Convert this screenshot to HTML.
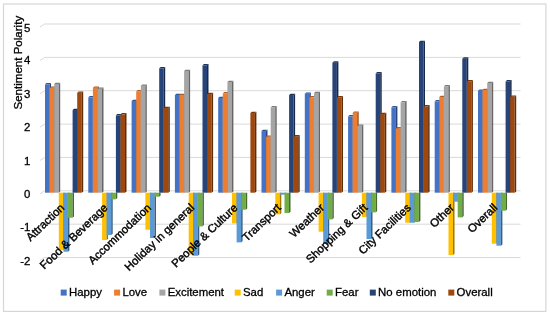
<!DOCTYPE html>
<html><head><meta charset="utf-8"><title>Sentiment Polarity</title>
<style>
html,body{margin:0;padding:0;background:#fff;}
body{width:550px;height:315px;overflow:hidden;position:relative;}
.t{font-family:"Liberation Sans",Arial,sans-serif;font-size:11.4px;fill:#000;stroke:#000;stroke-width:0.3px;}
.r{stroke-width:0.4px;}
</style></head><body>
<svg width="550" height="315" viewBox="0 0 550 315" style="position:absolute;left:0;top:0">
<rect x="3.5" y="4" width="542.4" height="307.4" fill="#fff" stroke="#D6D6D6" stroke-width="1.2"/>
<path d="M40 260.6 L44.6 257.5 H520.5" fill="none" stroke="#D9D9D9" stroke-width="1"/>
<path d="M40 227.3 L44.6 224.2 H520.5" fill="none" stroke="#D9D9D9" stroke-width="1"/>
<path d="M40 193.9 L44.6 190.8 H520.5" fill="none" stroke="#D9D9D9" stroke-width="1"/>
<path d="M40 160.5 L44.6 157.4 H520.5" fill="none" stroke="#D9D9D9" stroke-width="1"/>
<path d="M40 127.2 L44.6 124.1 H520.5" fill="none" stroke="#D9D9D9" stroke-width="1"/>
<path d="M40 93.8 L44.6 90.7 H520.5" fill="none" stroke="#D9D9D9" stroke-width="1"/>
<path d="M40 60.5 L44.6 57.4 H520.5" fill="none" stroke="#D9D9D9" stroke-width="1"/>
<path d="M40 27.1 L44.6 24.0 H520.5" fill="none" stroke="#D9D9D9" stroke-width="1"/>
<rect x="45.00" y="84.35" width="4.5" height="108.35" fill="#4472C4"/>
<path d="M49.50 84.35 l1.5 -1.3 V191.40 l-1.5 1.3 Z" fill="#2A4679"/>
<path d="M45.00 84.35 l1.5 -1.3 h4.5 l-1.5 1.3 Z" fill="#325491"/>
<rect x="49.60" y="87.68" width="4.5" height="105.02" fill="#ED7D31"/>
<path d="M54.10 87.68 l1.5 -1.3 V191.40 l-1.5 1.3 Z" fill="#924D1E"/>
<path d="M49.60 87.68 l1.5 -1.3 h4.5 l-1.5 1.3 Z" fill="#AF5C24"/>
<rect x="54.20" y="84.01" width="4.5" height="108.69" fill="#A5A5A5"/>
<path d="M58.70 84.01 l1.5 -1.3 V191.40 l-1.5 1.3 Z" fill="#666666"/>
<path d="M54.20 84.01 l1.5 -1.3 h4.5 l-1.5 1.3 Z" fill="#7A7A7A"/>
<rect x="58.80" y="192.70" width="4.5" height="57.38" fill="#FFC000"/>
<path d="M63.30 192.70 h1.5 V248.78 l-1.5 1.3 Z" fill="#9E7700"/>
<rect x="63.40" y="192.70" width="4.5" height="59.05" fill="#5B9BD5"/>
<path d="M67.90 192.70 h1.5 V250.45 l-1.5 1.3 Z" fill="#386084"/>
<rect x="68.00" y="192.70" width="4.5" height="25.02" fill="#70AD47"/>
<path d="M72.50 192.70 h1.5 V216.42 l-1.5 1.3 Z" fill="#456B2C"/>
<rect x="72.60" y="110.03" width="4.5" height="82.67" fill="#264478"/>
<path d="M77.10 110.03 l1.5 -1.3 V191.40 l-1.5 1.3 Z" fill="#172A4A"/>
<path d="M72.60 110.03 l1.5 -1.3 h4.5 l-1.5 1.3 Z" fill="#1C3258"/>
<rect x="77.20" y="92.69" width="4.5" height="100.01" fill="#9E480E"/>
<path d="M81.70 92.69 l1.5 -1.3 V191.40 l-1.5 1.3 Z" fill="#612C08"/>
<path d="M77.20 92.69 l1.5 -1.3 h4.5 l-1.5 1.3 Z" fill="#74350A"/>
<rect x="88.30" y="97.36" width="4.5" height="95.34" fill="#4472C4"/>
<path d="M92.80 97.36 l1.5 -1.3 V191.40 l-1.5 1.3 Z" fill="#2A4679"/>
<path d="M88.30 97.36 l1.5 -1.3 h4.5 l-1.5 1.3 Z" fill="#325491"/>
<rect x="92.90" y="87.68" width="4.5" height="105.02" fill="#ED7D31"/>
<path d="M97.40 87.68 l1.5 -1.3 V191.40 l-1.5 1.3 Z" fill="#924D1E"/>
<path d="M92.90 87.68 l1.5 -1.3 h4.5 l-1.5 1.3 Z" fill="#AF5C24"/>
<rect x="97.50" y="88.68" width="4.5" height="104.02" fill="#A5A5A5"/>
<path d="M102.00 88.68 l1.5 -1.3 V191.40 l-1.5 1.3 Z" fill="#666666"/>
<path d="M97.50 88.68 l1.5 -1.3 h4.5 l-1.5 1.3 Z" fill="#7A7A7A"/>
<rect x="102.10" y="192.70" width="4.5" height="47.37" fill="#FFC000"/>
<path d="M106.60 192.70 h1.5 V238.77 l-1.5 1.3 Z" fill="#9E7700"/>
<rect x="106.70" y="192.70" width="4.5" height="42.37" fill="#5B9BD5"/>
<path d="M111.20 192.70 h1.5 V233.77 l-1.5 1.3 Z" fill="#386084"/>
<rect x="111.30" y="192.70" width="4.5" height="6.67" fill="#70AD47"/>
<path d="M115.80 192.70 h1.5 V198.07 l-1.5 1.3 Z" fill="#456B2C"/>
<rect x="115.90" y="115.37" width="4.5" height="77.33" fill="#264478"/>
<path d="M120.40 115.37 l1.5 -1.3 V191.40 l-1.5 1.3 Z" fill="#172A4A"/>
<path d="M115.90 115.37 l1.5 -1.3 h4.5 l-1.5 1.3 Z" fill="#1C3258"/>
<rect x="120.50" y="114.37" width="4.5" height="78.33" fill="#9E480E"/>
<path d="M125.00 114.37 l1.5 -1.3 V191.40 l-1.5 1.3 Z" fill="#612C08"/>
<path d="M120.50 114.37 l1.5 -1.3 h4.5 l-1.5 1.3 Z" fill="#74350A"/>
<rect x="131.60" y="101.03" width="4.5" height="91.67" fill="#4472C4"/>
<path d="M136.10 101.03 l1.5 -1.3 V191.40 l-1.5 1.3 Z" fill="#2A4679"/>
<path d="M131.60 101.03 l1.5 -1.3 h4.5 l-1.5 1.3 Z" fill="#325491"/>
<rect x="136.20" y="91.35" width="4.5" height="101.35" fill="#ED7D31"/>
<path d="M140.70 91.35 l1.5 -1.3 V191.40 l-1.5 1.3 Z" fill="#924D1E"/>
<path d="M136.20 91.35 l1.5 -1.3 h4.5 l-1.5 1.3 Z" fill="#AF5C24"/>
<rect x="140.80" y="85.68" width="4.5" height="107.02" fill="#A5A5A5"/>
<path d="M145.30 85.68 l1.5 -1.3 V191.40 l-1.5 1.3 Z" fill="#666666"/>
<path d="M140.80 85.68 l1.5 -1.3 h4.5 l-1.5 1.3 Z" fill="#7A7A7A"/>
<rect x="145.40" y="192.70" width="4.5" height="37.03" fill="#FFC000"/>
<path d="M149.90 192.70 h1.5 V228.43 l-1.5 1.3 Z" fill="#9E7700"/>
<rect x="150.00" y="192.70" width="4.5" height="45.37" fill="#5B9BD5"/>
<path d="M154.50 192.70 h1.5 V236.77 l-1.5 1.3 Z" fill="#386084"/>
<rect x="154.60" y="192.70" width="4.5" height="4.00" fill="#70AD47"/>
<path d="M159.10 192.70 h1.5 V195.40 l-1.5 1.3 Z" fill="#456B2C"/>
<rect x="159.20" y="68.33" width="4.5" height="124.37" fill="#264478"/>
<path d="M163.70 68.33 l1.5 -1.3 V191.40 l-1.5 1.3 Z" fill="#172A4A"/>
<path d="M159.20 68.33 l1.5 -1.3 h4.5 l-1.5 1.3 Z" fill="#1C3258"/>
<rect x="163.80" y="108.03" width="4.5" height="84.67" fill="#9E480E"/>
<path d="M168.30 108.03 l1.5 -1.3 V191.40 l-1.5 1.3 Z" fill="#612C08"/>
<path d="M163.80 108.03 l1.5 -1.3 h4.5 l-1.5 1.3 Z" fill="#74350A"/>
<rect x="174.90" y="95.02" width="4.5" height="97.68" fill="#4472C4"/>
<path d="M179.40 95.02 l1.5 -1.3 V191.40 l-1.5 1.3 Z" fill="#2A4679"/>
<path d="M174.90 95.02 l1.5 -1.3 h4.5 l-1.5 1.3 Z" fill="#325491"/>
<rect x="179.50" y="95.02" width="4.5" height="97.68" fill="#ED7D31"/>
<path d="M184.00 95.02 l1.5 -1.3 V191.40 l-1.5 1.3 Z" fill="#924D1E"/>
<path d="M179.50 95.02 l1.5 -1.3 h4.5 l-1.5 1.3 Z" fill="#AF5C24"/>
<rect x="184.10" y="71.00" width="4.5" height="121.70" fill="#A5A5A5"/>
<path d="M188.60 71.00 l1.5 -1.3 V191.40 l-1.5 1.3 Z" fill="#666666"/>
<path d="M184.10 71.00 l1.5 -1.3 h4.5 l-1.5 1.3 Z" fill="#7A7A7A"/>
<rect x="188.70" y="192.70" width="4.5" height="61.72" fill="#FFC000"/>
<path d="M193.20 192.70 h1.5 V253.12 l-1.5 1.3 Z" fill="#9E7700"/>
<rect x="193.30" y="192.70" width="4.5" height="63.05" fill="#5B9BD5"/>
<path d="M197.80 192.70 h1.5 V254.45 l-1.5 1.3 Z" fill="#386084"/>
<rect x="197.90" y="192.70" width="4.5" height="33.69" fill="#70AD47"/>
<path d="M202.40 192.70 h1.5 V225.09 l-1.5 1.3 Z" fill="#456B2C"/>
<rect x="202.50" y="65.33" width="4.5" height="127.37" fill="#264478"/>
<path d="M207.00 65.33 l1.5 -1.3 V191.40 l-1.5 1.3 Z" fill="#172A4A"/>
<path d="M202.50 65.33 l1.5 -1.3 h4.5 l-1.5 1.3 Z" fill="#1C3258"/>
<rect x="207.10" y="94.02" width="4.5" height="98.68" fill="#9E480E"/>
<path d="M211.60 94.02 l1.5 -1.3 V191.40 l-1.5 1.3 Z" fill="#612C08"/>
<path d="M207.10 94.02 l1.5 -1.3 h4.5 l-1.5 1.3 Z" fill="#74350A"/>
<rect x="218.20" y="98.02" width="4.5" height="94.68" fill="#4472C4"/>
<path d="M222.70 98.02 l1.5 -1.3 V191.40 l-1.5 1.3 Z" fill="#2A4679"/>
<path d="M218.20 98.02 l1.5 -1.3 h4.5 l-1.5 1.3 Z" fill="#325491"/>
<rect x="222.80" y="93.35" width="4.5" height="99.35" fill="#ED7D31"/>
<path d="M227.30 93.35 l1.5 -1.3 V191.40 l-1.5 1.3 Z" fill="#924D1E"/>
<path d="M222.80 93.35 l1.5 -1.3 h4.5 l-1.5 1.3 Z" fill="#AF5C24"/>
<rect x="227.40" y="82.01" width="4.5" height="110.69" fill="#A5A5A5"/>
<path d="M231.90 82.01 l1.5 -1.3 V191.40 l-1.5 1.3 Z" fill="#666666"/>
<path d="M227.40 82.01 l1.5 -1.3 h4.5 l-1.5 1.3 Z" fill="#7A7A7A"/>
<rect x="232.00" y="192.70" width="4.5" height="30.69" fill="#FFC000"/>
<path d="M236.50 192.70 h1.5 V222.09 l-1.5 1.3 Z" fill="#9E7700"/>
<rect x="236.60" y="192.70" width="4.5" height="49.71" fill="#5B9BD5"/>
<path d="M241.10 192.70 h1.5 V241.11 l-1.5 1.3 Z" fill="#386084"/>
<rect x="241.20" y="192.70" width="4.5" height="17.01" fill="#70AD47"/>
<path d="M245.70 192.70 h1.5 V208.41 l-1.5 1.3 Z" fill="#456B2C"/>
<rect x="250.40" y="113.04" width="4.5" height="79.66" fill="#9E480E"/>
<path d="M254.90 113.04 l1.5 -1.3 V191.40 l-1.5 1.3 Z" fill="#612C08"/>
<path d="M250.40 113.04 l1.5 -1.3 h4.5 l-1.5 1.3 Z" fill="#74350A"/>
<rect x="261.50" y="131.05" width="4.5" height="61.65" fill="#4472C4"/>
<path d="M266.00 131.05 l1.5 -1.3 V191.40 l-1.5 1.3 Z" fill="#2A4679"/>
<path d="M261.50 131.05 l1.5 -1.3 h4.5 l-1.5 1.3 Z" fill="#325491"/>
<rect x="266.10" y="136.72" width="4.5" height="55.98" fill="#ED7D31"/>
<path d="M270.60 136.72 l1.5 -1.3 V191.40 l-1.5 1.3 Z" fill="#924D1E"/>
<path d="M266.10 136.72 l1.5 -1.3 h4.5 l-1.5 1.3 Z" fill="#AF5C24"/>
<rect x="270.70" y="107.36" width="4.5" height="85.34" fill="#A5A5A5"/>
<path d="M275.20 107.36 l1.5 -1.3 V191.40 l-1.5 1.3 Z" fill="#666666"/>
<path d="M270.70 107.36 l1.5 -1.3 h4.5 l-1.5 1.3 Z" fill="#7A7A7A"/>
<rect x="275.30" y="192.70" width="4.5" height="21.68" fill="#FFC000"/>
<path d="M279.80 192.70 h1.5 V213.08 l-1.5 1.3 Z" fill="#9E7700"/>
<rect x="279.90" y="192.70" width="4.5" height="2.00" fill="#5B9BD5"/>
<path d="M284.40 192.70 h1.5 V193.40 l-1.5 1.3 Z" fill="#386084"/>
<rect x="284.50" y="192.70" width="4.5" height="20.35" fill="#70AD47"/>
<path d="M289.00 192.70 h1.5 V211.75 l-1.5 1.3 Z" fill="#456B2C"/>
<rect x="289.10" y="95.02" width="4.5" height="97.68" fill="#264478"/>
<path d="M293.60 95.02 l1.5 -1.3 V191.40 l-1.5 1.3 Z" fill="#172A4A"/>
<path d="M289.10 95.02 l1.5 -1.3 h4.5 l-1.5 1.3 Z" fill="#1C3258"/>
<rect x="293.70" y="136.39" width="4.5" height="56.31" fill="#9E480E"/>
<path d="M298.20 136.39 l1.5 -1.3 V191.40 l-1.5 1.3 Z" fill="#612C08"/>
<path d="M293.70 136.39 l1.5 -1.3 h4.5 l-1.5 1.3 Z" fill="#74350A"/>
<rect x="304.80" y="93.69" width="4.5" height="99.01" fill="#4472C4"/>
<path d="M309.30 93.69 l1.5 -1.3 V191.40 l-1.5 1.3 Z" fill="#2A4679"/>
<path d="M304.80 93.69 l1.5 -1.3 h4.5 l-1.5 1.3 Z" fill="#325491"/>
<rect x="309.40" y="97.36" width="4.5" height="95.34" fill="#ED7D31"/>
<path d="M313.90 97.36 l1.5 -1.3 V191.40 l-1.5 1.3 Z" fill="#924D1E"/>
<path d="M309.40 97.36 l1.5 -1.3 h4.5 l-1.5 1.3 Z" fill="#AF5C24"/>
<rect x="314.00" y="93.02" width="4.5" height="99.68" fill="#A5A5A5"/>
<path d="M318.50 93.02 l1.5 -1.3 V191.40 l-1.5 1.3 Z" fill="#666666"/>
<path d="M314.00 93.02 l1.5 -1.3 h4.5 l-1.5 1.3 Z" fill="#7A7A7A"/>
<rect x="318.60" y="192.70" width="4.5" height="39.03" fill="#FFC000"/>
<path d="M323.10 192.70 h1.5 V230.43 l-1.5 1.3 Z" fill="#9E7700"/>
<rect x="323.20" y="192.70" width="4.5" height="51.37" fill="#5B9BD5"/>
<path d="M327.70 192.70 h1.5 V242.77 l-1.5 1.3 Z" fill="#386084"/>
<rect x="327.80" y="192.70" width="4.5" height="26.69" fill="#70AD47"/>
<path d="M332.30 192.70 h1.5 V218.09 l-1.5 1.3 Z" fill="#456B2C"/>
<rect x="332.40" y="62.66" width="4.5" height="130.04" fill="#264478"/>
<path d="M336.90 62.66 l1.5 -1.3 V191.40 l-1.5 1.3 Z" fill="#172A4A"/>
<path d="M332.40 62.66 l1.5 -1.3 h4.5 l-1.5 1.3 Z" fill="#1C3258"/>
<rect x="337.00" y="97.36" width="4.5" height="95.34" fill="#9E480E"/>
<path d="M341.50 97.36 l1.5 -1.3 V191.40 l-1.5 1.3 Z" fill="#612C08"/>
<path d="M337.00 97.36 l1.5 -1.3 h4.5 l-1.5 1.3 Z" fill="#74350A"/>
<rect x="348.10" y="116.37" width="4.5" height="76.33" fill="#4472C4"/>
<path d="M352.60 116.37 l1.5 -1.3 V191.40 l-1.5 1.3 Z" fill="#2A4679"/>
<path d="M348.10 116.37 l1.5 -1.3 h4.5 l-1.5 1.3 Z" fill="#325491"/>
<rect x="352.70" y="112.70" width="4.5" height="80.00" fill="#ED7D31"/>
<path d="M357.20 112.70 l1.5 -1.3 V191.40 l-1.5 1.3 Z" fill="#924D1E"/>
<path d="M352.70 112.70 l1.5 -1.3 h4.5 l-1.5 1.3 Z" fill="#AF5C24"/>
<rect x="357.30" y="125.71" width="4.5" height="66.99" fill="#A5A5A5"/>
<path d="M361.80 125.71 l1.5 -1.3 V191.40 l-1.5 1.3 Z" fill="#666666"/>
<path d="M357.30 125.71 l1.5 -1.3 h4.5 l-1.5 1.3 Z" fill="#7A7A7A"/>
<rect x="361.90" y="192.70" width="4.5" height="24.35" fill="#FFC000"/>
<path d="M366.40 192.70 h1.5 V215.75 l-1.5 1.3 Z" fill="#9E7700"/>
<rect x="366.50" y="192.70" width="4.5" height="46.37" fill="#5B9BD5"/>
<path d="M371.00 192.70 h1.5 V237.77 l-1.5 1.3 Z" fill="#386084"/>
<rect x="371.10" y="192.70" width="4.5" height="19.68" fill="#70AD47"/>
<path d="M375.60 192.70 h1.5 V211.08 l-1.5 1.3 Z" fill="#456B2C"/>
<rect x="375.70" y="73.34" width="4.5" height="119.36" fill="#264478"/>
<path d="M380.20 73.34 l1.5 -1.3 V191.40 l-1.5 1.3 Z" fill="#172A4A"/>
<path d="M375.70 73.34 l1.5 -1.3 h4.5 l-1.5 1.3 Z" fill="#1C3258"/>
<rect x="380.30" y="114.04" width="4.5" height="78.66" fill="#9E480E"/>
<path d="M384.80 114.04 l1.5 -1.3 V191.40 l-1.5 1.3 Z" fill="#612C08"/>
<path d="M380.30 114.04 l1.5 -1.3 h4.5 l-1.5 1.3 Z" fill="#74350A"/>
<rect x="391.40" y="107.36" width="4.5" height="85.34" fill="#4472C4"/>
<path d="M395.90 107.36 l1.5 -1.3 V191.40 l-1.5 1.3 Z" fill="#2A4679"/>
<path d="M391.40 107.36 l1.5 -1.3 h4.5 l-1.5 1.3 Z" fill="#325491"/>
<rect x="396.00" y="128.38" width="4.5" height="64.32" fill="#ED7D31"/>
<path d="M400.50 128.38 l1.5 -1.3 V191.40 l-1.5 1.3 Z" fill="#924D1E"/>
<path d="M396.00 128.38 l1.5 -1.3 h4.5 l-1.5 1.3 Z" fill="#AF5C24"/>
<rect x="400.60" y="102.36" width="4.5" height="90.34" fill="#A5A5A5"/>
<path d="M405.10 102.36 l1.5 -1.3 V191.40 l-1.5 1.3 Z" fill="#666666"/>
<path d="M400.60 102.36 l1.5 -1.3 h4.5 l-1.5 1.3 Z" fill="#7A7A7A"/>
<rect x="405.20" y="192.70" width="4.5" height="30.02" fill="#FFC000"/>
<path d="M409.70 192.70 h1.5 V221.42 l-1.5 1.3 Z" fill="#9E7700"/>
<rect x="409.80" y="192.70" width="4.5" height="30.02" fill="#5B9BD5"/>
<path d="M414.30 192.70 h1.5 V221.42 l-1.5 1.3 Z" fill="#386084"/>
<rect x="414.40" y="192.70" width="4.5" height="29.36" fill="#70AD47"/>
<path d="M418.90 192.70 h1.5 V220.76 l-1.5 1.3 Z" fill="#456B2C"/>
<rect x="419.00" y="41.98" width="4.5" height="150.72" fill="#264478"/>
<path d="M423.50 41.98 l1.5 -1.3 V191.40 l-1.5 1.3 Z" fill="#172A4A"/>
<path d="M419.00 41.98 l1.5 -1.3 h4.5 l-1.5 1.3 Z" fill="#1C3258"/>
<rect x="423.60" y="106.36" width="4.5" height="86.34" fill="#9E480E"/>
<path d="M428.10 106.36 l1.5 -1.3 V191.40 l-1.5 1.3 Z" fill="#612C08"/>
<path d="M423.60 106.36 l1.5 -1.3 h4.5 l-1.5 1.3 Z" fill="#74350A"/>
<rect x="434.70" y="101.36" width="4.5" height="91.34" fill="#4472C4"/>
<path d="M439.20 101.36 l1.5 -1.3 V191.40 l-1.5 1.3 Z" fill="#2A4679"/>
<path d="M434.70 101.36 l1.5 -1.3 h4.5 l-1.5 1.3 Z" fill="#325491"/>
<rect x="439.30" y="97.02" width="4.5" height="95.68" fill="#ED7D31"/>
<path d="M443.80 97.02 l1.5 -1.3 V191.40 l-1.5 1.3 Z" fill="#924D1E"/>
<path d="M439.30 97.02 l1.5 -1.3 h4.5 l-1.5 1.3 Z" fill="#AF5C24"/>
<rect x="443.90" y="86.35" width="4.5" height="106.35" fill="#A5A5A5"/>
<path d="M448.40 86.35 l1.5 -1.3 V191.40 l-1.5 1.3 Z" fill="#666666"/>
<path d="M443.90 86.35 l1.5 -1.3 h4.5 l-1.5 1.3 Z" fill="#7A7A7A"/>
<rect x="448.50" y="192.70" width="4.5" height="62.38" fill="#FFC000"/>
<path d="M453.00 192.70 h1.5 V253.78 l-1.5 1.3 Z" fill="#9E7700"/>
<rect x="453.10" y="192.70" width="4.5" height="9.01" fill="#5B9BD5"/>
<path d="M457.60 192.70 h1.5 V200.41 l-1.5 1.3 Z" fill="#386084"/>
<rect x="457.70" y="192.70" width="4.5" height="24.69" fill="#70AD47"/>
<path d="M462.20 192.70 h1.5 V216.09 l-1.5 1.3 Z" fill="#456B2C"/>
<rect x="462.30" y="58.66" width="4.5" height="134.04" fill="#264478"/>
<path d="M466.80 58.66 l1.5 -1.3 V191.40 l-1.5 1.3 Z" fill="#172A4A"/>
<path d="M462.30 58.66 l1.5 -1.3 h4.5 l-1.5 1.3 Z" fill="#1C3258"/>
<rect x="466.90" y="81.34" width="4.5" height="111.36" fill="#9E480E"/>
<path d="M471.40 81.34 l1.5 -1.3 V191.40 l-1.5 1.3 Z" fill="#612C08"/>
<path d="M466.90 81.34 l1.5 -1.3 h4.5 l-1.5 1.3 Z" fill="#74350A"/>
<rect x="478.00" y="90.68" width="4.5" height="102.02" fill="#4472C4"/>
<path d="M482.50 90.68 l1.5 -1.3 V191.40 l-1.5 1.3 Z" fill="#2A4679"/>
<path d="M478.00 90.68 l1.5 -1.3 h4.5 l-1.5 1.3 Z" fill="#325491"/>
<rect x="482.60" y="90.02" width="4.5" height="102.68" fill="#ED7D31"/>
<path d="M487.10 90.02 l1.5 -1.3 V191.40 l-1.5 1.3 Z" fill="#924D1E"/>
<path d="M482.60 90.02 l1.5 -1.3 h4.5 l-1.5 1.3 Z" fill="#AF5C24"/>
<rect x="487.20" y="83.01" width="4.5" height="109.69" fill="#A5A5A5"/>
<path d="M491.70 83.01 l1.5 -1.3 V191.40 l-1.5 1.3 Z" fill="#666666"/>
<path d="M487.20 83.01 l1.5 -1.3 h4.5 l-1.5 1.3 Z" fill="#7A7A7A"/>
<rect x="491.80" y="192.70" width="4.5" height="51.04" fill="#FFC000"/>
<path d="M496.30 192.70 h1.5 V242.44 l-1.5 1.3 Z" fill="#9E7700"/>
<rect x="496.40" y="192.70" width="4.5" height="53.04" fill="#5B9BD5"/>
<path d="M500.90 192.70 h1.5 V244.44 l-1.5 1.3 Z" fill="#386084"/>
<rect x="501.00" y="192.70" width="4.5" height="18.01" fill="#70AD47"/>
<path d="M505.50 192.70 h1.5 V209.41 l-1.5 1.3 Z" fill="#456B2C"/>
<rect x="505.60" y="81.34" width="4.5" height="111.36" fill="#264478"/>
<path d="M510.10 81.34 l1.5 -1.3 V191.40 l-1.5 1.3 Z" fill="#172A4A"/>
<path d="M505.60 81.34 l1.5 -1.3 h4.5 l-1.5 1.3 Z" fill="#1C3258"/>
<rect x="510.20" y="96.69" width="4.5" height="96.01" fill="#9E480E"/>
<path d="M514.70 96.69 l1.5 -1.3 V191.40 l-1.5 1.3 Z" fill="#612C08"/>
<path d="M510.20 96.69 l1.5 -1.3 h4.5 l-1.5 1.3 Z" fill="#74350A"/>
<text x="30.4" y="264.8" text-anchor="end" class="t">-2</text>
<text x="30.4" y="231.0" text-anchor="end" class="t">-1</text>
<text x="30.4" y="198.0" text-anchor="end" class="t">0</text>
<text x="30.4" y="164.5" text-anchor="end" class="t">1</text>
<text x="30.4" y="131.3" text-anchor="end" class="t">2</text>
<text x="30.4" y="97.7" text-anchor="end" class="t">3</text>
<text x="30.4" y="64.2" text-anchor="end" class="t">4</text>
<text x="30.4" y="32.2" text-anchor="end" class="t">5</text>
<text transform="translate(22.3,62.7) rotate(-90)" text-anchor="middle" class="t" style="font-size:11.55px">Sentiment Polarity</text>
<text transform="translate(65.2,208.6) rotate(-43.7)" text-anchor="end" class="t r">Attraction</text>
<text transform="translate(108.4,208.6) rotate(-43.7)" text-anchor="end" class="t r">Food &amp; Beverage</text>
<text transform="translate(151.8,208.6) rotate(-43.7)" text-anchor="end" class="t r">Accommodation</text>
<text transform="translate(195.0,208.6) rotate(-43.7)" text-anchor="end" class="t r">Holiday in general</text>
<text transform="translate(238.3,208.6) rotate(-43.7)" text-anchor="end" class="t r">People &amp; Culture</text>
<text transform="translate(281.6,208.6) rotate(-43.7)" text-anchor="end" class="t r">Transport</text>
<text transform="translate(324.9,208.6) rotate(-43.7)" text-anchor="end" class="t r">Weather</text>
<text transform="translate(368.2,208.6) rotate(-43.7)" text-anchor="end" class="t r">Shopping &amp; Gift</text>
<text transform="translate(411.5,208.6) rotate(-43.7)" text-anchor="end" class="t r">City Facilities</text>
<text transform="translate(454.8,208.6) rotate(-43.7)" text-anchor="end" class="t r">Other</text>
<text transform="translate(498.1,208.6) rotate(-43.7)" text-anchor="end" class="t r">Overall</text>
<rect x="60.7" y="289.6" width="6" height="6" fill="#4472C4"/>
<text x="69.0" y="296.0" class="t">Happy</text>
<rect x="114.1" y="289.6" width="6" height="6" fill="#ED7D31"/>
<text x="122.4" y="296.0" class="t">Love</text>
<rect x="159.4" y="289.6" width="6" height="6" fill="#A5A5A5"/>
<text x="167.7" y="296.0" class="t">Excitement</text>
<rect x="234.7" y="289.6" width="6" height="6" fill="#FFC000"/>
<text x="243.0" y="296.0" class="t">Sad</text>
<rect x="276.1" y="289.6" width="6" height="6" fill="#5B9BD5"/>
<text x="284.4" y="296.0" class="t">Anger</text>
<rect x="326.7" y="289.6" width="6" height="6" fill="#70AD47"/>
<text x="335.0" y="296.0" class="t">Fear</text>
<rect x="369.8" y="289.6" width="6" height="6" fill="#264478"/>
<text x="378.1" y="296.0" class="t">No emotion</text>
<rect x="448.3" y="289.6" width="6" height="6" fill="#9E480E"/>
<text x="456.6" y="296.0" class="t">Overall</text>
</svg>
</body></html>
